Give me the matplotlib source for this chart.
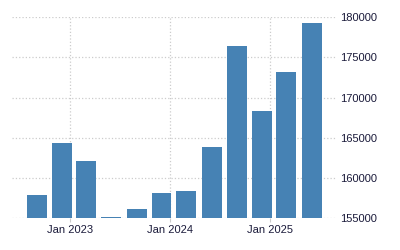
import matplotlib
matplotlib.use('Agg')
import matplotlib.pyplot as plt
import numpy as np
import datetime as dt

dates = [dt.date(2022, 9, 1), dt.date(2022, 12, 1), dt.date(2023, 3, 1), dt.date(2023, 6, 1),
         dt.date(2023, 9, 1), dt.date(2023, 12, 1), dt.date(2024, 3, 1), dt.date(2024, 6, 1),
         dt.date(2024, 9, 1), dt.date(2024, 12, 1), dt.date(2025, 3, 1), dt.date(2025, 6, 1)]
values = [157900, 164350, 162100, 155150, 156100, 158100, 158400, 163850,
          176450, 168350, 173200, 179300]
xticks = [dt.date(2023, 1, 1), dt.date(2024, 1, 1), dt.date(2025, 1, 1)]
xlabels = ['Jan 2023', 'Jan 2024', 'Jan 2025']
yticks = [155000, 160000, 165000, 170000, 175000, 180000]

plt.rcParams['font.family'] = ['Liberation Sans', 'DejaVu Sans']

fig = plt.figure(figsize=(4, 2.5), dpi=100)
ax = fig.add_axes([12 / 400, 0.128, 325 / 400, 0.931 - 0.128])

ax.bar(dates, np.array(values) - 155000, bottom=155000, width=73, color='#4682b4', zorder=3)

ax.set_ylim(155000, 180000)
ax.set_xlim(dt.date(2022, 6, 3), dt.date(2025, 9, 2))
ax.set_yticks(yticks)
ax.set_xticks(xticks)
ax.set_xticklabels(xlabels)
ax.yaxis.tick_right()

ax.grid(True, color='#cccccc', linestyle=':', linewidth=0.9, zorder=0)
for s in ax.spines.values():
    s.set_visible(False)
ax.tick_params(axis='y', length=0, pad=2, labelsize=8, labelcolor='#1a1a3a')
ax.tick_params(axis='x', length=3, color='#cccccc', pad=2, labelsize=8, labelcolor='#1a1a3a')

fig.savefig('out.png', dpi=100)
